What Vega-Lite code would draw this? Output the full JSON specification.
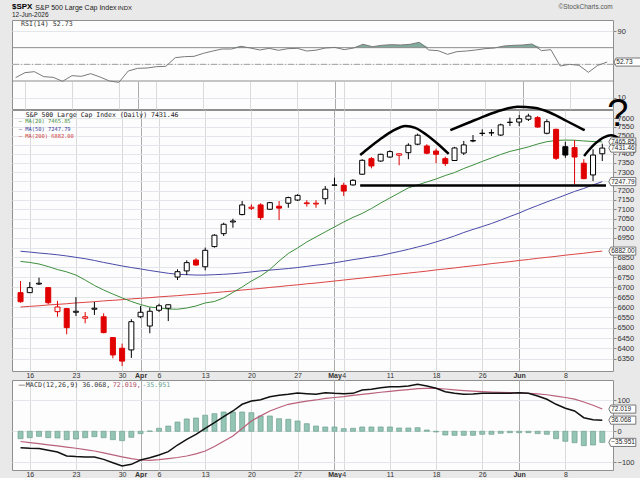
{
"$schema": "https://vega.github.io/schema/vega-lite/v6.json",
"background": "#e9e9e9",
"padding": {"left": 11, "top": 2, "right": 0, "bottom": 0},
"bounds": "full",
"spacing": 0,
"config": {
  "view": {"fill": "#fdfdfd", "stroke": "#8f8f8f"},
  "axis": {"labelFont": "Liberation Sans", "labelColor": "#333333", "labelFontSize": 7.5, "tickColor": "#888888", "tickSize": 3, "domain": false, "gridColor": "#e3e7ec", "labelOverlap": false, "labelFlush": false, "labelPadding": 1},
  "text": {"font": "Liberation Sans"}
},
"datasets": {
  "d": [
    {"i":0,"d":"2026-03-13","o":6672,"h":6730,"l":6622,"c":6627,"m20":6829,"m50":6881,"m200":6601,"rsi":34,"macd":-53,"sig":-33,"hist":-24},
    {"i":1,"d":"2026-03-16","o":6672,"h":6725,"l":6670,"c":6697,"m20":6824,"m50":6877,"m200":6604,"rsi":40,"macd":-55,"sig":-36.5,"hist":-20.7},
    {"i":2,"d":"2026-03-17","o":6715,"h":6747,"l":6710,"c":6719,"m20":6816,"m50":6872,"m200":6607,"rsi":41.2,"macd":-56,"sig":-40,"hist":-16.4},
    {"i":3,"d":"2026-03-18","o":6697,"h":6700,"l":6614,"c":6622,"m20":6803,"m50":6868,"m200":6611,"rsi":35.2,"macd":-61.7,"sig":-43.7,"hist":-20.7},
    {"i":4,"d":"2026-03-19","o":6578,"h":6631,"l":6553,"c":6601,"m20":6788,"m50":6863,"m200":6614,"rsi":34.4,"macd":-67,"sig":-47.3,"hist":-21.7},
    {"i":5,"d":"2026-03-20","o":6593,"h":6595,"l":6468,"c":6500,"m20":6776,"m50":6857,"m200":6617,"rsi":29.6,"macd":-80,"sig":-51,"hist":-27},
    {"i":6,"d":"2026-03-23","o":6575,"h":6650,"l":6557,"c":6580,"m20":6760,"m50":6850,"m200":6621,"rsi":36.4,"macd":-82,"sig":-55,"hist":-25},
    {"i":7,"d":"2026-03-24","o":6546,"h":6576,"l":6521,"c":6553,"m20":6735,"m50":6843,"m200":6624,"rsi":35.6,"macd":-83,"sig":-59.5,"hist":-20.7},
    {"i":8,"d":"2026-03-25","o":6590,"h":6626,"l":6562,"c":6595,"m20":6708,"m50":6834,"m200":6627,"rsi":38.8,"macd":-83,"sig":-63.8,"hist":-17.5},
    {"i":9,"d":"2026-03-26","o":6553,"h":6570,"l":6473,"c":6476,"m20":6685,"m50":6824,"m200":6631,"rsi":34.8,"macd":-91,"sig":-70,"hist":-20.7},
    {"i":10,"d":"2026-03-27","o":6452,"h":6455,"l":6353,"c":6369,"m20":6665,"m50":6815,"m200":6634,"rsi":30,"macd":-101.7,"sig":-76.5,"hist":-27},
    {"i":11,"d":"2026-03-30","o":6401,"h":6423,"l":6317,"c":6340,"m20":6646,"m50":6806,"m200":6637,"rsi":28.4,"macd":-112.4,"sig":-83,"hist":-30.4},
    {"i":12,"d":"2026-03-31","o":6393,"h":6541,"l":6355,"c":6529,"m20":6628,"m50":6798,"m200":6641,"rsi":42,"macd":-107,"sig":-88.5,"hist":-19.4},
    {"i":13,"d":"2026-04-01","o":6553,"h":6606,"l":6546,"c":6575,"m20":6613,"m50":6791,"m200":6644,"rsi":45.2,"macd":-93,"sig":-93,"hist":-7.6},
    {"i":14,"d":"2026-04-02","o":6508,"h":6598,"l":6473,"c":6580,"m20":6601,"m50":6783,"m200":6647,"rsi":45.6,"macd":-85.5,"sig":-94,"hist":1},
    {"i":15,"d":"2026-04-06","o":6585,"h":6617,"l":6576,"c":6607,"m20":6596,"m50":6776,"m200":6651,"rsi":47.2,"macd":-76.8,"sig":-92,"hist":9.7},
    {"i":16,"d":"2026-04-07","o":6595,"h":6614,"l":6532,"c":6612,"m20":6591,"m50":6769,"m200":6654,"rsi":47.6,"macd":-66,"sig":-88.7,"hist":17},
    {"i":17,"d":"2026-04-08","o":6750,"h":6789,"l":6735,"c":6777,"m20":6590,"m50":6764,"m200":6657,"rsi":58,"macd":-44.4,"sig":-85,"hist":30},
    {"i":18,"d":"2026-04-09","o":6781,"h":6835,"l":6760,"c":6823,"m20":6596,"m50":6762,"m200":6661,"rsi":59.2,"macd":-26,"sig":-80,"hist":40},
    {"i":19,"d":"2026-04-10","o":6836,"h":6845,"l":6806,"c":6811,"m20":6606,"m50":6760,"m200":6664,"rsi":59.6,"macd":-9.7,"sig":-73,"hist":43},
    {"i":20,"d":"2026-04-13","o":6802,"h":6900,"l":6784,"c":6886,"m20":6621,"m50":6760,"m200":6668,"rsi":63.2,"macd":9.7,"sig":-63.8,"hist":52},
    {"i":21,"d":"2026-04-14","o":6905,"h":6969,"l":6900,"c":6964,"m20":6628,"m50":6762,"m200":6672,"rsi":66,"macd":28,"sig":-49,"hist":57},
    {"i":22,"d":"2026-04-15","o":6972,"h":7029,"l":6960,"c":7021,"m20":6646,"m50":6764,"m200":6676,"rsi":68.4,"macd":47.4,"sig":-32,"hist":62.5},
    {"i":23,"d":"2026-04-16","o":7033,"h":7050,"l":7003,"c":7038,"m20":6673,"m50":6767,"m200":6680,"rsi":68.4,"macd":65.8,"sig":-15.2,"hist":62.5},
    {"i":24,"d":"2026-04-17","o":7072,"h":7144,"l":7068,"c":7123,"m20":6700,"m50":6771,"m200":6685,"rsi":71.6,"macd":87.5,"sig":9,"hist":62.5},
    {"i":25,"d":"2026-04-20","o":7105,"h":7126,"l":7096,"c":7111,"m20":6730,"m50":6776,"m200":6689,"rsi":69.6,"macd":98,"sig":33.4,"hist":60.3},
    {"i":26,"d":"2026-04-21","o":7123,"h":7132,"l":7043,"c":7056,"m20":6755,"m50":6781,"m200":6693,"rsi":67.2,"macd":102.4,"sig":50,"hist":49.6},
    {"i":27,"d":"2026-04-22","o":7100,"h":7139,"l":7096,"c":7135,"m20":6788,"m50":6785,"m200":6698,"rsi":69.2,"macd":112,"sig":65.8,"hist":49.6},
    {"i":28,"d":"2026-04-23","o":7116,"h":7144,"l":7043,"c":7106,"m20":6831,"m50":6789,"m200":6702,"rsi":66.8,"macd":116.6,"sig":77,"hist":40.8},
    {"i":29,"d":"2026-04-24","o":7132,"h":7167,"l":7108,"c":7162,"m20":6870,"m50":6793,"m200":6707,"rsi":68.8,"macd":119.8,"sig":87.5,"hist":38.9},
    {"i":30,"d":"2026-04-27","o":7149,"h":7180,"l":7144,"c":7174,"m20":6898,"m50":6798,"m200":6711,"rsi":69.2,"macd":124,"sig":93,"hist":33.4},
    {"i":31,"d":"2026-04-28","o":7130,"h":7148,"l":7114,"c":7134,"m20":6929,"m50":6804,"m200":6716,"rsi":66,"macd":121.8,"sig":98,"hist":24.6},
    {"i":32,"d":"2026-04-29","o":7128,"h":7148,"l":7108,"c":7132,"m20":6955,"m50":6810,"m200":6720,"rsi":67,"macd":119.8,"sig":101.5,"hist":17},
    {"i":33,"d":"2026-04-30","o":7156,"h":7224,"l":7126,"c":7207,"m20":6981,"m50":6815,"m200":6725,"rsi":69.6,"macd":125,"sig":106.5,"hist":14},
    {"i":34,"d":"2026-05-01","o":7228,"h":7269,"l":7226,"c":7230,"m20":7007,"m50":6822,"m200":6730,"rsi":70.4,"macd":123,"sig":109.5,"hist":14},
    {"i":35,"d":"2026-05-04","o":7228,"h":7242,"l":7171,"c":7197,"m20":7033,"m50":6830,"m200":6735,"rsi":67.6,"macd":121.8,"sig":112.5,"hist":8.6},
    {"i":36,"d":"2026-05-05","o":7230,"h":7261,"l":7226,"c":7255,"m20":7057,"m50":6838,"m200":6740,"rsi":69.6,"macd":123,"sig":116.6,"hist":9.7},
    {"i":37,"d":"2026-05-06","o":7288,"h":7370,"l":7284,"c":7364,"m20":7078,"m50":6845,"m200":6745,"rsi":74,"macd":133.8,"sig":119.6,"hist":14},
    {"i":38,"d":"2026-05-07","o":7373,"h":7382,"l":7320,"c":7333,"m20":7104,"m50":6853,"m200":6750,"rsi":71.2,"macd":136,"sig":122.8,"hist":14},
    {"i":39,"d":"2026-05-08","o":7360,"h":7400,"l":7356,"c":7397,"m20":7133,"m50":6859,"m200":6755,"rsi":72.8,"macd":141.3,"sig":126.5,"hist":14},
    {"i":40,"d":"2026-05-11","o":7382,"h":7419,"l":7378,"c":7412,"m20":7160,"m50":6870,"m200":6760,"rsi":73.6,"macd":144.5,"sig":129.5,"hist":14},
    {"i":41,"d":"2026-05-12","o":7392,"h":7402,"l":7337,"c":7400,"m20":7187,"m50":6880,"m200":6765,"rsi":73.2,"macd":144.5,"sig":132.5,"hist":10.7},
    {"i":42,"d":"2026-05-13","o":7406,"h":7458,"l":7370,"c":7447,"m20":7214,"m50":6891,"m200":6770,"rsi":74,"macd":146.7,"sig":135.2,"hist":10.7},
    {"i":43,"d":"2026-05-14","o":7453,"h":7512,"l":7447,"c":7503,"m20":7230,"m50":6903,"m200":6775,"rsi":76.4,"macd":152,"sig":138.3,"hist":11.7},
    {"i":44,"d":"2026-05-15","o":7443,"h":7453,"l":7397,"c":7403,"m20":7246,"m50":6915,"m200":6780,"rsi":67.2,"macd":146.7,"sig":139.3,"hist":4.2},
    {"i":45,"d":"2026-05-18","o":7415,"h":7428,"l":7348,"c":7397,"m20":7262,"m50":6929,"m200":6786,"rsi":66.4,"macd":139.3,"sig":139.3,"hist":-2},
    {"i":46,"d":"2026-05-19","o":7373,"h":7384,"l":7333,"c":7346,"m20":7281,"m50":6944,"m200":6791,"rsi":62,"macd":128.3,"sig":137,"hist":-12},
    {"i":47,"d":"2026-05-20","o":7363,"h":7438,"l":7360,"c":7432,"m20":7297,"m50":6960,"m200":6796,"rsi":65.2,"macd":123,"sig":134.5,"hist":-13},
    {"i":48,"d":"2026-05-21","o":7404,"h":7471,"l":7393,"c":7449,"m20":7319,"m50":6978,"m200":6802,"rsi":66,"macd":119.8,"sig":132,"hist":-13},
    {"i":49,"d":"2026-05-22","o":7471,"h":7504,"l":7464,"c":7473,"m20":7338,"m50":6994,"m200":6807,"rsi":67.2,"macd":120.8,"sig":130,"hist":-13},
    {"i":50,"d":"2026-05-26","o":7513,"h":7536,"l":7499,"c":7514,"m20":7358,"m50":7009,"m200":6812,"rsi":68.8,"macd":123,"sig":128.3,"hist":-9.7},
    {"i":51,"d":"2026-05-27","o":7516,"h":7536,"l":7499,"c":7517,"m20":7377,"m50":7025,"m200":6818,"rsi":69.6,"macd":123,"sig":127,"hist":-9.7},
    {"i":52,"d":"2026-05-28","o":7504,"h":7568,"l":7499,"c":7561,"m20":7396,"m50":7043,"m200":6823,"rsi":72,"macd":123,"sig":126,"hist":-6.5},
    {"i":53,"d":"2026-05-29","o":7575,"h":7602,"l":7555,"c":7576,"m20":7413,"m50":7062,"m200":6828,"rsi":72.8,"macd":123,"sig":125.3,"hist":-4.5},
    {"i":54,"d":"2026-06-01","o":7577,"h":7617,"l":7555,"c":7596,"m20":7425,"m50":7080,"m200":6834,"rsi":73.2,"macd":125,"sig":124.8,"hist":-4.5},
    {"i":55,"d":"2026-06-02","o":7593,"h":7624,"l":7583,"c":7611,"m20":7438,"m50":7101,"m200":6839,"rsi":74.4,"macd":123,"sig":123,"hist":-4.5},
    {"i":56,"d":"2026-06-03","o":7602,"h":7611,"l":7545,"c":7549,"m20":7454,"m50":7120,"m200":6845,"rsi":66.4,"macd":114.4,"sig":121,"hist":-7.6},
    {"i":57,"d":"2026-06-04","o":7514,"h":7593,"l":7508,"c":7579,"m20":7467,"m50":7139,"m200":6850,"rsi":67.6,"macd":103.7,"sig":118.5,"hist":-9.7},
    {"i":58,"d":"2026-06-05","o":7536,"h":7540,"l":7366,"c":7375,"m20":7474,"m50":7157,"m200":6855,"rsi":48,"macd":87.5,"sig":114,"hist":-24},
    {"i":59,"d":"2026-06-08","o":7439,"h":7467,"l":7378,"c":7393,"m20":7476,"m50":7176,"m200":6861,"rsi":50,"macd":74.5,"sig":109.5,"hist":-32.4},
    {"i":60,"d":"2026-06-09","o":7434,"h":7475,"l":7233,"c":7382,"m20":7475,"m50":7195,"m200":6866,"rsi":48.8,"macd":65.8,"sig":104,"hist":-37},
    {"i":61,"d":"2026-06-10","o":7348,"h":7370,"l":7261,"c":7264,"m20":7471,"m50":7211,"m200":6871,"rsi":40.4,"macd":44,"sig":95,"hist":-46.6},
    {"i":62,"d":"2026-06-11","o":7284,"h":7425,"l":7251,"c":7393,"m20":7468,"m50":7230,"m200":6877,"rsi":48.8,"macd":37.6,"sig":84.5,"hist":-44.4},
    {"i":63,"d":"2026-06-12","o":7400,"h":7456,"l":7360,"c":7431.46,"m20":7465.85,"m50":7247.79,"m200":6882,"rsi":52.73,"macd":36.068,"sig":72.019,"hist":-35.951}
  ],
  "arcs": [
    {"s":"ls","i":36.78,"p":7393},{"s":"ls","i":37.85,"p":7438},{"s":"ls","i":38.91,"p":7479},{"s":"ls","i":40.3,"p":7527},{"s":"ls","i":41.68,"p":7555},{"s":"ls","i":42.75,"p":7544},{"s":"ls","i":43.92,"p":7507},{"s":"ls","i":45.2,"p":7454},{"s":"ls","i":46.37,"p":7399},
    {"s":"hd","i":46.55,"p":7531},{"s":"hd","i":48.5,"p":7573},{"s":"hd","i":50.28,"p":7611},{"s":"hd","i":52.05,"p":7644},{"s":"hd","i":53.82,"p":7664},{"s":"hd","i":55.6,"p":7658},{"s":"hd","i":57.37,"p":7630},{"s":"hd","i":59.14,"p":7583},{"s":"hd","i":61.1,"p":7531},
    {"s":"rs","i":61.03,"p":7388},{"s":"rs","i":62.16,"p":7453},{"s":"rs","i":63.23,"p":7493},{"s":"rs","i":63.94,"p":7503},{"s":"rs","i":65.0,"p":7480},{"s":"rs","i":66.53,"p":7406},
    {"s":"nk","i":36.78,"p":7227},{"s":"nk","i":63.4,"p":7227}
  ],
  "ptag": [{"k":"MA(20)","v":7465.85},{"k":"Close","v":7431.46},{"k":"MA(50)","v":7247.79},{"k":"MA(200)","v":6882.00}],
  "rtag": [{"k":"RSI","v":52.73}],
  "mtag": [{"k":"Signal","v":72.019},{"k":"MACD","v":36.068},{"k":"Hist","v":-35.951}]
},
"vconcat": [
 {"bounds": "flush", "spacing": 1, "vconcat": [
  {
   "width": 601, "height": 89,
   "resolve": {"scale": {"y": "independent"}},
   "layer": [
    {"data": {"name": "d"}, "mark": {"type": "area", "color": "#72a292", "opacity": 0.9},
     "encoding": {
       "x": {"field": "i", "type": "quantitative", "scale": {"domain": [-0.383, 63.62], "nice": false, "zero": false}, "axis": {"values": [1,6,11,13,15,20,25,30,34,35,40,45,50,54,59], "labels": false, "ticks": false, "grid": true, "gridColor": {"condition": {"test": "indexof([13,34,54], datum.value) >= 0", "value": "#ababab"}, "value": "#dadada"}, "title": null}},
       "y": {"field": "rsi", "type": "quantitative", "scale": {"domain": [70, 103.2], "range": [27.67, 0], "clamp": true, "nice": false, "zero": false}, "axis": null},
       "y2": {"datum": 70}}},
    {"layer": [
      {"data": {"values": [{}]}, "mark": {"type": "rule", "color": "#8c8c8c"},
       "encoding": {"y": {"datum": 70, "type": "quantitative", "scale": {"domain": [-3.6, 103.2], "nice": false, "zero": false}, "axis": {"orient": "right", "values": [10,30,50,70,90], "labelExpr": "datum.value == 50 ? '' : datum.label", "grid": true, "title": null}}}},
      {"data": {"values": [{}]}, "mark": {"type": "rule", "color": "#8c8c8c"},
       "encoding": {"y": {"datum": 30, "type": "quantitative", "scale": {"domain": [-3.6, 103.2], "nice": false, "zero": false}}}},
      {"data": {"values": [{}]}, "mark": {"type": "rule", "color": "#a0a0a0", "strokeDash": [6, 2, 1, 2]},
       "encoding": {"y": {"datum": 50, "type": "quantitative", "scale": {"domain": [-3.6, 103.2], "nice": false, "zero": false}}}},
      {"data": {"name": "d"}, "mark": {"type": "line", "color": "#7a7a7a", "strokeWidth": 1},
       "encoding": {"x": {"field": "i", "type": "quantitative", "scale": {"domain": [-0.383, 63.62], "nice": false, "zero": false}},
                    "y": {"field": "rsi", "type": "quantitative", "scale": {"domain": [-3.6, 103.2], "nice": false, "zero": false}}}},
      {"data": {"values": [{}]}, "mark": {"type": "text", "text": "$SPX", "fontSize": 8, "fontWeight": "bold", "align": "left", "baseline": "middle", "color": "#000000"},
       "encoding": {"x": {"datum": -0.383, "type": "quantitative", "scale": {"domain": [-0.383, 63.62], "nice": false, "zero": false}}, "y": {"datum": 118.8, "type": "quantitative", "scale": {"domain": [-3.6, 103.2], "nice": false, "zero": false}}}},
      {"data": {"values": [{}]}, "mark": {"type": "text", "text": "S&P 500 Large Cap Index", "fontSize": 7, "align": "left", "baseline": "middle", "color": "#222222"},
       "encoding": {"x": {"datum": 2.1, "type": "quantitative", "scale": {"domain": [-0.383, 63.62], "nice": false, "zero": false}}, "y": {"datum": 118.2, "type": "quantitative", "scale": {"domain": [-3.6, 103.2], "nice": false, "zero": false}}}},
      {"data": {"values": [{}]}, "mark": {"type": "text", "text": "INDX", "fontSize": 6, "align": "left", "baseline": "middle", "color": "#222222"},
       "encoding": {"x": {"datum": 10.87, "type": "quantitative", "scale": {"domain": [-0.383, 63.62], "nice": false, "zero": false}}, "y": {"datum": 118.2, "type": "quantitative", "scale": {"domain": [-3.6, 103.2], "nice": false, "zero": false}}}},
      {"data": {"values": [{}]}, "mark": {"type": "text", "text": "12-Jun-2026", "fontSize": 6.5, "align": "left", "baseline": "middle", "color": "#222222"},
       "encoding": {"x": {"datum": -0.383, "type": "quantitative", "scale": {"domain": [-0.383, 63.62], "nice": false, "zero": false}}, "y": {"datum": 108.8, "type": "quantitative", "scale": {"domain": [-3.6, 103.2], "nice": false, "zero": false}}}},
      {"data": {"values": [{}]}, "mark": {"type": "text", "text": "©StockCharts.com", "fontSize": 6.5, "align": "right", "baseline": "middle", "color": "#555555"},
       "encoding": {"x": {"datum": 63.59, "type": "quantitative", "scale": {"domain": [-0.383, 63.62], "nice": false, "zero": false}}, "y": {"datum": 118.8, "type": "quantitative", "scale": {"domain": [-3.6, 103.2], "nice": false, "zero": false}}}},
      {"data": {"values": [{}]}, "mark": {"type": "text", "text": "RSI(14) 52.73", "font": "DejaVu Sans Mono", "fontSize": 6.6, "align": "left", "baseline": "middle", "color": "#333333"},
       "encoding": {"x": {"datum": 0.575, "type": "quantitative", "scale": {"domain": [-0.383, 63.62], "nice": false, "zero": false}}, "y": {"datum": 99, "type": "quantitative", "scale": {"domain": [-3.6, 103.2], "nice": false, "zero": false}}}},
      {"data": {"name": "rtag"}, "mark": {"type": "point", "shape": "M-1,0L-0.85,-0.3H1V0.3H-0.85Z", "size": 729, "filled": true, "fill": "#ffffff", "strokeWidth": 1, "opacity": 1},
       "encoding": {"x": {"datum": 65.17, "type": "quantitative", "scale": {"domain": [-0.383, 63.62], "nice": false, "zero": false}}, "y": {"field": "v", "type": "quantitative", "scale": {"domain": [-3.6, 103.2], "nice": false, "zero": false}},
                    "stroke": {"field": "k", "type": "nominal", "scale": {"domain": ["RSI"], "range": ["#777777"]}, "legend": null}}},
      {"data": {"name": "rtag"}, "mark": {"type": "text", "fontSize": 6.5, "align": "left", "baseline": "middle", "color": "#222222"},
       "encoding": {"x": {"datum": 63.97, "type": "quantitative", "scale": {"domain": [-0.383, 63.62], "nice": false, "zero": false}}, "y": {"field": "v", "type": "quantitative", "scale": {"domain": [-3.6, 103.2], "nice": false, "zero": false}}, "text": {"field": "v", "format": ".2f"}}}
    ]}
   ]
  },
  {
   "width": 601, "height": 261,
   "layer": [
    {"data": {"name": "d"}, "mark": {"type": "line", "color": "#dd4444", "strokeWidth": 1},
     "encoding": {
       "x": {"field": "i", "type": "quantitative", "scale": {"domain": [-0.383, 63.62], "nice": false, "zero": false}, "axis": {"values": [1,6,11,13,15,20,25,30,34,35,40,45,50,54,59], "labelExpr": "['16','23','30','Apr','6','13','20','27','May','4','11','18','26','Jun','8'][indexof([1,6,11,13,15,20,25,30,34,35,40,45,50,54,59], datum.value)]", "grid": true, "gridColor": {"condition": {"test": "indexof([13,34,54], datum.value) >= 0", "value": "#ababab"}, "value": "#dadada"}, "ticks": false, "labelPadding": 0, "labelFontSize": 7, "labelFontWeight": {"condition": {"test": "indexof([13,34,54], datum.value) >= 0", "value": "bold"}, "value": "normal"}, "title": null}},
       "y": {"field": "m200", "type": "quantitative", "scale": {"type": "log", "domain": [6293.3, 7645.5], "nice": false, "zero": false}, "axis": {"orient": "right", "values": [6350,6400,6450,6500,6550,6600,6650,6700,6750,6800,6850,6900,6950,7000,7050,7100,7150,7200,7250,7300,7350,7400,7450,7500,7550,7600], "format": "d", "labelExpr": "indexof([7450,7250,6900], datum.value) >= 0 ? '' : datum.label", "grid": true, "title": null}}}},
    {"data": {"name": "d"}, "mark": {"type": "line", "color": "#4a4aa8", "strokeWidth": 1},
     "encoding": {"x": {"field": "i", "type": "quantitative", "scale": {"domain": [-0.383, 63.62], "nice": false, "zero": false}},
                  "y": {"field": "m50", "type": "quantitative", "scale": {"type": "log", "domain": [6293.3, 7645.5], "nice": false, "zero": false}}}},
    {"data": {"name": "d"}, "mark": {"type": "line", "color": "#3d8f3d", "strokeWidth": 1},
     "encoding": {"x": {"field": "i", "type": "quantitative", "scale": {"domain": [-0.383, 63.62], "nice": false, "zero": false}},
                  "y": {"field": "m20", "type": "quantitative", "scale": {"type": "log", "domain": [6293.3, 7645.5], "nice": false, "zero": false}}}},
    {"data": {"name": "d"},
     "transform": [{"window": [{"op": "lag", "field": "c", "as": "pc"}], "sort": [{"field": "i", "order": "ascending"}]}],
     "mark": {"type": "rule", "strokeWidth": 1},
     "encoding": {"x": {"field": "i", "type": "quantitative", "scale": {"domain": [-0.383, 63.62], "nice": false, "zero": false}},
                  "y": {"field": "l", "type": "quantitative", "scale": {"type": "log", "domain": [6293.3, 7645.5], "nice": false, "zero": false}},
                  "y2": {"field": "h"},
                  "stroke": {"condition": {"test": "datum.c < (datum.pc || 999999)", "value": "#e00000"}, "value": "#000000"}}},
    {"data": {"name": "d"},
     "transform": [{"window": [{"op": "lag", "field": "c", "as": "pc"}], "sort": [{"field": "i", "order": "ascending"}]}],
     "mark": {"type": "bar", "size": 5, "strokeWidth": 1},
     "encoding": {"x": {"field": "i", "type": "quantitative", "scale": {"domain": [-0.383, 63.62], "nice": false, "zero": false}},
                  "y": {"field": "o", "type": "quantitative", "scale": {"type": "log", "domain": [6293.3, 7645.5], "nice": false, "zero": false}},
                  "y2": {"field": "c"},
                  "stroke": {"condition": {"test": "datum.c < (datum.pc || 999999)", "value": "#e00000"}, "value": "#000000"},
                  "fill": {"condition": [{"test": "datum.c >= datum.o", "value": "#ffffff"}, {"test": "datum.c < (datum.pc || 999999)", "value": "#e00000"}], "value": "#000000"}}},
    {"data": {"name": "arcs"}, "mark": {"type": "line", "color": "#000000", "strokeWidth": 2.5, "interpolate": "monotone", "clip": false},
     "encoding": {"x": {"field": "i", "type": "quantitative", "scale": {"domain": [-0.383, 63.62], "nice": false, "zero": false}},
                  "y": {"field": "p", "type": "quantitative", "scale": {"type": "log", "domain": [6293.3, 7645.5], "nice": false, "zero": false}},
                  "detail": {"field": "s", "type": "nominal"}}},
    {"data": {"values": [{}]}, "mark": {"type": "text", "text": "?", "fontSize": 38, "align": "center", "baseline": "alphabetic", "color": "#000000"},
     "encoding": {"x": {"datum": 64.69, "type": "quantitative", "scale": {"domain": [-0.383, 63.62], "nice": false, "zero": false}}, "y": {"datum": 7555, "type": "quantitative", "scale": {"type": "log", "domain": [6293.3, 7645.5], "nice": false, "zero": false}}}},
    {"data": {"values": [{}]}, "mark": {"type": "text", "text": "S&P 500 Large Cap Index (Daily) 7431.46", "font": "DejaVu Sans Mono", "fontSize": 6.5, "align": "left", "baseline": "middle", "color": "#222222"},
     "encoding": {"x": {"datum": 0.575, "type": "quantitative", "scale": {"domain": [-0.383, 63.62], "nice": false, "zero": false}}, "y": {"datum": 7618.7, "type": "quantitative", "scale": {"type": "log", "domain": [6293.3, 7645.5], "nice": false, "zero": false}}}},
    {"data": {"values": [{}]}, "mark": {"type": "text", "text": "— MA(20) 7465.85", "font": "DejaVu Sans Mono", "fontSize": 5.4, "align": "left", "baseline": "middle", "color": "#3d8f3d"},
     "encoding": {"x": {"datum": -0.2, "type": "quantitative", "scale": {"domain": [-0.383, 63.62], "nice": false, "zero": false}}, "y": {"datum": 7581.3, "type": "quantitative", "scale": {"type": "log", "domain": [6293.3, 7645.5], "nice": false, "zero": false}}}},
    {"data": {"values": [{}]}, "mark": {"type": "text", "text": "— MA(50) 7247.79", "font": "DejaVu Sans Mono", "fontSize": 5.4, "align": "left", "baseline": "middle", "color": "#3a3a9a"},
     "encoding": {"x": {"datum": -0.2, "type": "quantitative", "scale": {"domain": [-0.383, 63.62], "nice": false, "zero": false}}, "y": {"datum": 7539.6, "type": "quantitative", "scale": {"type": "log", "domain": [6293.3, 7645.5], "nice": false, "zero": false}}}},
    {"data": {"values": [{}]}, "mark": {"type": "text", "text": "— MA(200) 6882.00", "font": "DejaVu Sans Mono", "fontSize": 5.4, "align": "left", "baseline": "middle", "color": "#d04040"},
     "encoding": {"x": {"datum": -0.2, "type": "quantitative", "scale": {"domain": [-0.383, 63.62], "nice": false, "zero": false}}, "y": {"datum": 7498.4, "type": "quantitative", "scale": {"type": "log", "domain": [6293.3, 7645.5], "nice": false, "zero": false}}}},
    {"data": {"name": "ptag"}, "mark": {"type": "point", "shape": "M-1,0L-0.85,-0.3H1V0.3H-0.85Z", "size": 729, "filled": true, "fill": "#ffffff", "strokeWidth": 1, "opacity": 1},
     "encoding": {"x": {"datum": 65.17, "type": "quantitative", "scale": {"domain": [-0.383, 63.62], "nice": false, "zero": false}}, "y": {"field": "v", "type": "quantitative", "scale": {"type": "log", "domain": [6293.3, 7645.5], "nice": false, "zero": false}},
                  "stroke": {"field": "k", "type": "nominal", "scale": {"domain": ["MA(20)", "Close", "MA(50)", "MA(200)"], "range": ["#3d8f3d", "#222222", "#4a4aa8", "#dd4444"]}, "legend": null}}},
    {"data": {"name": "ptag"}, "mark": {"type": "text", "fontSize": 6.5, "align": "left", "baseline": "middle", "color": "#222222"},
     "encoding": {"x": {"datum": 63.97, "type": "quantitative", "scale": {"domain": [-0.383, 63.62], "nice": false, "zero": false}}, "y": {"field": "v", "type": "quantitative", "scale": {"type": "log", "domain": [6293.3, 7645.5], "nice": false, "zero": false}}, "text": {"field": "v", "format": ".2f"}}}
   ]
  }
 ]},
 {
  "width": 601, "height": 90,
  "layer": [
   {"data": {"name": "d"}, "mark": {"type": "bar", "size": 5, "fill": "#93c4b4", "stroke": "#6f9f8f", "strokeWidth": 0.7},
    "encoding": {
      "x": {"field": "i", "type": "quantitative", "scale": {"domain": [-0.383, 63.62], "nice": false, "zero": false}, "axis": {"values": [1,6,11,13,15,20,25,30,34,35,40,45,50,54,59], "labelExpr": "['16','23','30','Apr','6','13','20','27','May','4','11','18','26','Jun','8'][indexof([1,6,11,13,15,20,25,30,34,35,40,45,50,54,59], datum.value)]", "grid": true, "gridColor": {"condition": {"test": "indexof([13,34,54], datum.value) >= 0", "value": "#ababab"}, "value": "#dadada"}, "ticks": false, "labelPadding": 0, "labelFontSize": 7, "labelFontWeight": {"condition": {"test": "indexof([13,34,54], datum.value) >= 0", "value": "bold"}, "value": "normal"}, "title": null}},
      "y": {"field": "hist", "type": "quantitative", "scale": {"domain": [-125.4, 166.2], "nice": false, "zero": false}, "axis": {"orient": "right", "values": [-100,-50,0,50,100,150], "grid": true, "title": null}},
      "y2": {"datum": 0}}},
   {"data": {"name": "d"}, "mark": {"type": "line", "color": "#b9607a", "strokeWidth": 1.2},
    "encoding": {"x": {"field": "i", "type": "quantitative", "scale": {"domain": [-0.383, 63.62], "nice": false, "zero": false}},
                 "y": {"field": "sig", "type": "quantitative", "scale": {"domain": [-125.4, 166.2], "nice": false, "zero": false}}}},
   {"data": {"name": "d"}, "mark": {"type": "line", "color": "#111111", "strokeWidth": 1.5},
    "encoding": {"x": {"field": "i", "type": "quantitative", "scale": {"domain": [-0.383, 63.62], "nice": false, "zero": false}},
                 "y": {"field": "macd", "type": "quantitative", "scale": {"domain": [-125.4, 166.2], "nice": false, "zero": false}}}},
   {"data": {"values": [{}]}, "mark": {"type": "text", "text": "—", "font": "DejaVu Sans", "fontSize": 7, "align": "left", "baseline": "middle", "color": "#111111"},
    "encoding": {"x": {"datum": -0.245, "type": "quantitative", "scale": {"domain": [-0.383, 63.62], "nice": false, "zero": false}}, "y": {"datum": 151, "type": "quantitative", "scale": {"domain": [-125.4, 166.2], "nice": false, "zero": false}}}},
   {"data": {"values": [{}]}, "mark": {"type": "text", "text": "MACD(12,26,9) 36.068,", "font": "DejaVu Sans Mono", "fontSize": 6.7, "align": "left", "baseline": "middle", "color": "#333333"},
    "encoding": {"x": {"datum": 0.575, "type": "quantitative", "scale": {"domain": [-0.383, 63.62], "nice": false, "zero": false}}, "y": {"datum": 151, "type": "quantitative", "scale": {"domain": [-125.4, 166.2], "nice": false, "zero": false}}}},
   {"data": {"values": [{}]}, "mark": {"type": "text", "text": "72.019,", "font": "DejaVu Sans Mono", "fontSize": 6.7, "align": "left", "baseline": "middle", "color": "#b0506a"},
    "encoding": {"x": {"datum": 9.98, "type": "quantitative", "scale": {"domain": [-0.383, 63.62], "nice": false, "zero": false}}, "y": {"datum": 151, "type": "quantitative", "scale": {"domain": [-125.4, 166.2], "nice": false, "zero": false}}}},
   {"data": {"values": [{}]}, "mark": {"type": "text", "text": "-35.951", "font": "DejaVu Sans Mono", "fontSize": 6.7, "align": "left", "baseline": "middle", "color": "#6aa593"},
    "encoding": {"x": {"datum": 13.17, "type": "quantitative", "scale": {"domain": [-0.383, 63.62], "nice": false, "zero": false}}, "y": {"datum": 151, "type": "quantitative", "scale": {"domain": [-125.4, 166.2], "nice": false, "zero": false}}}},
   {"data": {"name": "mtag"}, "mark": {"type": "point", "shape": "M-1,0L-0.85,-0.3H1V0.3H-0.85Z", "size": 729, "filled": true, "fill": "#ffffff", "strokeWidth": 1, "opacity": 1},
    "encoding": {"x": {"datum": 65.17, "type": "quantitative", "scale": {"domain": [-0.383, 63.62], "nice": false, "zero": false}}, "y": {"field": "v", "type": "quantitative", "scale": {"domain": [-125.4, 166.2], "nice": false, "zero": false}},
                 "stroke": {"field": "k", "type": "nominal", "scale": {"domain": ["Signal", "MACD", "Hist"], "range": ["#c06080", "#333333", "#888888"]}, "legend": null}}},
   {"data": {"name": "mtag"}, "mark": {"type": "text", "fontSize": 6.5, "align": "left", "baseline": "middle", "color": "#222222"},
    "encoding": {"x": {"datum": 63.97, "type": "quantitative", "scale": {"domain": [-0.383, 63.62], "nice": false, "zero": false}}, "y": {"field": "v", "type": "quantitative", "scale": {"domain": [-125.4, 166.2], "nice": false, "zero": false}}, "text": {"field": "v", "format": ".3f"}}}
  ]
 }
]
}
